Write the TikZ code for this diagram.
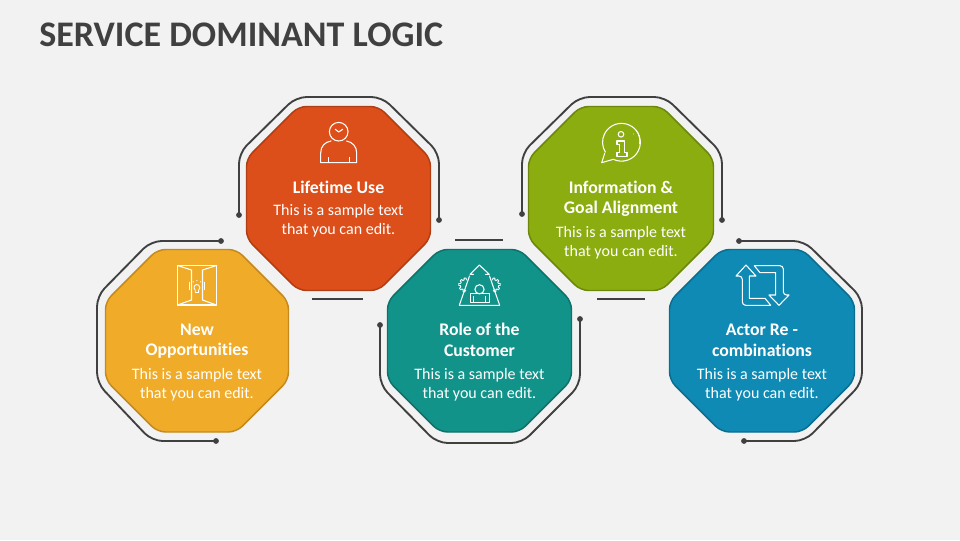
\documentclass[tikz,border=0pt]{standalone}
\usepackage{fontspec}
\setmainfont[Ligatures=NoCommon]{Carlito}
\definecolor{bgc}{HTML}{F2F2F2}
\definecolor{inkc}{HTML}{404040}
\definecolor{orangeF}{HTML}{DC4E1A}\definecolor{orangeD}{HTML}{B03E14}
\definecolor{yellowF}{HTML}{F0AB28}\definecolor{yellowD}{HTML}{C48A1E}
\definecolor{tealF}{HTML}{12938A}\definecolor{tealD}{HTML}{0E716A}
\definecolor{greenF}{HTML}{8BAD10}\definecolor{greenD}{HTML}{6C870C}
\definecolor{blueF}{HTML}{0E8AB5}\definecolor{blueD}{HTML}{0B6D8F}
\tikzset{
  octa/.style={line width=1.1pt,rounded corners=6pt},
  ring/.style={draw=inkc,line width=1.4pt,rounded corners=8pt},
  plainline/.style={draw=inkc,line width=1.4pt},
  enddot/.style={fill=inkc,draw=none},
  icon/.style={draw=white,line width=0.8pt,line join=round,line cap=round},
  iconthin/.style={draw=white,line width=0.65pt,line join=round},
  head/.style={text=white,font=\fontsize{13.3}{16}\selectfont\bfseries,align=center,inner sep=0pt},
  body/.style={text=white,font=\fontsize{12}{14.4}\selectfont,align=center,inner sep=0pt},
}
\newcommand{\octagon}[6]{%
  \path[octa,fill=#1,draw=#2] (#3+52,#4) -- (#5-52,#4) -- (#5,#4+52) -- (#5,#6-52) -- (#5-52,#6) -- (#3+52,#6) -- (#3,#6-52) -- (#3,#4+52) -- cycle;}
\newcommand{\gearteeth}[3]{% centre x, centre y, start angle
  \draw[iconthin] ({#1+5.3*cos(#3)},{#2+5.3*sin(#3)})
    \foreach \k in {0,1,2,3,4} {
      -- ({#1+5.3*cos(#3+\k*40+8)},{#2+5.3*sin(#3+\k*40+8)})
      -- ({#1+7*cos(#3+\k*40+12)},{#2+7*sin(#3+\k*40+12)})
      -- ({#1+7*cos(#3+\k*40+28)},{#2+7*sin(#3+\k*40+28)})
      -- ({#1+5.3*cos(#3+\k*40+32)},{#2+5.3*sin(#3+\k*40+32)})
      -- ({#1+5.3*cos(#3+\k*40+40)},{#2+5.3*sin(#3+\k*40+40)})
    };}
\begin{document}
\begin{tikzpicture}[x=0.75pt,y=0.75pt,yscale=-1]
\useasboundingbox (0,0) rectangle (960,540);
\fill[bgc] (0,0) rectangle (960,540);
\node[anchor=west,inner sep=0pt,text=inkc,font=\fontsize{27}{32}\selectfont\bfseries] (title) at (39,34.5) {SERVICE DOMINANT LOGIC};

% octagons
\octagon{orangeF}{orangeD}{246.5}{106.5}{430.5}{290.5}
\octagon{yellowF}{yellowD}{105.5}{249.5}{288.5}{432}
\octagon{tealF}{tealD}{387.5}{249.5}{571.5}{432}
\octagon{greenF}{greenD}{528.5}{106.5}{713.5}{290.5}
\octagon{blueF}{blueD}{669.5}{249.5}{854.5}{432}

% named ends
\coordinate (y1) at (221,241); \coordinate (y2) at (216,441);
\coordinate (o1) at (239,215); \coordinate (o2) at (439,220);
\coordinate (t1) at (380,325); \coordinate (t2) at (580,319);
\coordinate (g1) at (522,214); \coordinate (g2) at (722,220);
\coordinate (b1) at (739,241); \coordinate (b2) at (744,441);
\coordinate (l1a) at (312,299); \coordinate (l1b) at (363,299);
\coordinate (l2a) at (455,240); \coordinate (l2b) at (503,240);
\coordinate (l3a) at (597,299); \coordinate (l3b) at (645,299);

% rings
\draw[ring] (y1) -- (151,241) -- (97,296) -- (97,383) -- (152,441) -- (y2);
\draw[ring] (o1) -- (239,153) -- (296,97) -- (382,97) -- (439,153) -- (o2);
\draw[ring] (t1) -- (380,385) -- (437,443) -- (522,443) -- (580,385) -- (t2);
\draw[ring] (g1) -- (522,153) -- (579,97) -- (665,97) -- (722,153) -- (g2);
\draw[ring] (b1) -- (804,241) -- (862,298) -- (862,383) -- (805,441) -- (b2);
\foreach \p in {y1,y2,o1,o2,t1,t2,g1,g2,b1,b2} \fill[enddot] (\p) circle [radius=2.9];
\draw[plainline] (l1a) -- (l1b);
\draw[plainline] (l2a) -- (l2b);
\draw[plainline] (l3a) -- (l3b);

% texts
\node[head] (h1) at (197,329.7) {New};
\node[head] (h1b) at (197,350.7) {Opportunities};
\node[body] (b1t) at (197,375.5) {This is a sample text};
\node[body] (b1u) at (197,394.5) {that you can edit.};
\node[head] (h2) at (338.5,187.7) {Lifetime Use};
\node[body] (b2t) at (338.5,211.5) {This is a sample text};
\node[body] (b2u) at (338.5,230.5) {that you can edit.};
\node[head] (h3) at (479.5,329.7) {Role of the};
\node[head] (h3b) at (479.5,350.7) {Customer};
\node[body] (b3t) at (479.5,375.5) {This is a sample text};
\node[body] (b3u) at (479.5,394.5) {that you can edit.};
\node[head] (h4) at (621,187.7) {Information \&};
\node[head] (h4b) at (621,208.7) {Goal Alignment};
\node[body] (b4t) at (621,233.5) {This is a sample text};
\node[body] (b4u) at (621,252.5) {that you can edit.};
\node[head] (h5) at (762,329.7) {Actor Re -};
\node[head] (h5b) at (762,350.7) {combinations};
\node[body] (b5t) at (762,375.5) {This is a sample text};
\node[body] (b5u) at (762,394.5) {that you can edit.};

% door icon
\draw[icon] (177.5,265.5) rectangle (216.5,305);
\draw[icon] (177.5,265.5) -- (191.5,270) -- (191.5,300) -- (177.5,305);
\draw[icon] (216.5,265.5) -- (202.5,270) -- (202.5,300) -- (216.5,305);
\draw[iconthin] (189,281.5) -- (189,289.5) (204.7,281.5) -- (204.7,289.5);
\draw[iconthin] (195.2,290) arc[start angle=125,end angle=415,radius=3] -- (198.6,290) -- (198.6,292.5) -- (195.2,292.5) -- cycle;
\draw[iconthin] (196.9,280) -- (196.9,281) (193,281.5) -- (193.6,282.2) (200.8,281.5) -- (200.2,282.2);

% person with clock icon
\draw[icon] (338.7,131.7) circle [radius=9.3];
\draw[icon] (335.3,129.3) -- (338.7,132) -- (342.7,129.3);
\draw[icon] (331,141) .. controls (325,142) and (320.7,146) .. (320.7,153) -- (320.7,162.7) -- (356.7,162.7) -- (356.7,153) .. controls (356.7,146) and (352,142) .. (346.5,141);
\draw[iconthin] (328.3,157) -- (328.3,162.7) (349,157) -- (349,162.7);

% role of the customer icon
\draw[icon] (469.5,276) -- (459.3,305.3) -- (499.7,305.3) -- (489.5,276);
\draw[icon] (473.5,274.3) -- (470,274.3) -- (479.3,265) -- (489.3,274.3) -- (485.5,274.3);
\gearteeth{465.7}{285}{85}
\gearteeth{493.3}{285}{-105}
\draw[icon] (479.5,289.3) circle [radius=4.6];
\draw[iconthin] (470.2,302.7) rectangle (489.3,293.5);
\draw[iconthin] (473.5,302.7) -- (473.5,296) (485.7,302.7) -- (485.7,296);

% information icon
\draw[icon] (604.7,153.3) -- (601.7,162.7) -- (613.3,159.3) arc[start angle=115.6,end angle=-211.5,radius=18.9];
\draw[icon] (617,141) -- (624.7,141) -- (624.7,152.7) -- (627,152.7) -- (627,156.7) -- (617,156.7) -- (617,152.7) -- (619.3,152.7) -- (619.3,144.5) -- (617,144.5) -- cycle;
\draw[icon] (621,134.3) circle [radius=2.8];
\draw[iconthin] (636,130) arc[start angle=-38,end angle=10,radius=18];
\fill[white] (633.5,134) circle [radius=0.5];

% repeat icon
\draw[icon] (736,276) -- (746,265) -- (756,276) -- (749.3,276) -- (749.3,298.3) -- (765,298.3) -- (770.7,305.3) -- (747,305.3) [rounded corners=2.5pt] -- (742.3,305.3) -- (742.3,276) [sharp corners] -- cycle;
\draw[icon] (754.3,265.7) -- (778,265.7) [rounded corners=2.5pt] -- (783.3,265.7) -- (783.3,295) [sharp corners] -- (789,295) -- (779,305.3) -- (769,295) -- (775.7,295) -- (775.7,272.7) -- (760,272.7) -- cycle;
\end{tikzpicture}
\end{document}
